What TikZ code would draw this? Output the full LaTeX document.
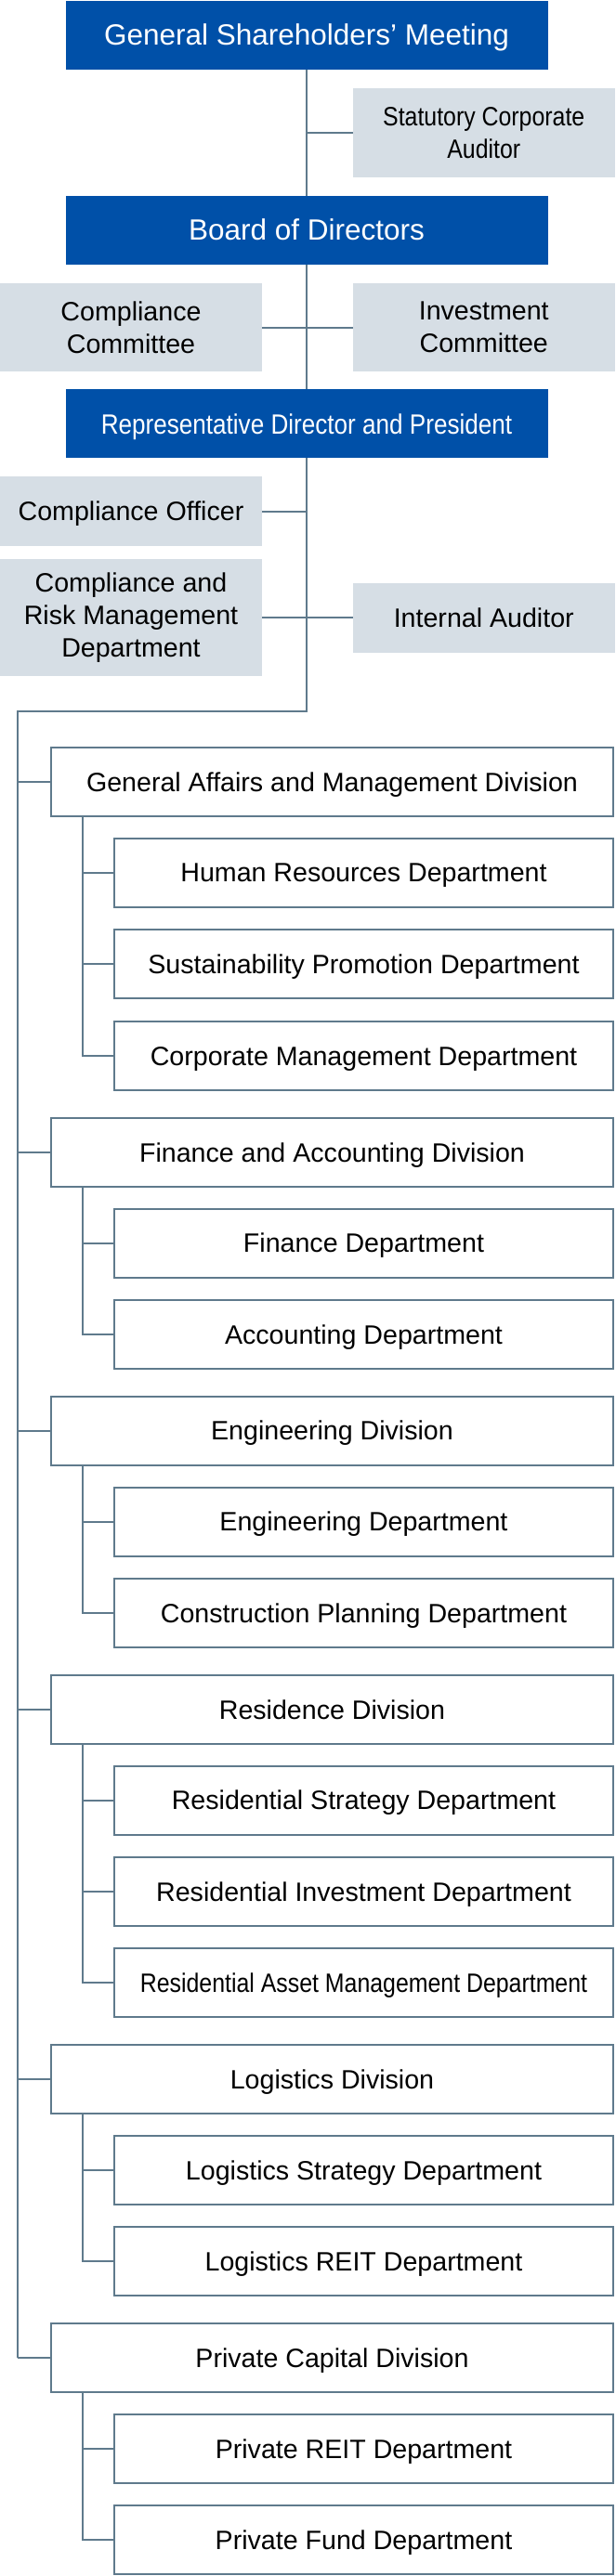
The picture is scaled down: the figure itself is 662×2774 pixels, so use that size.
\documentclass[tikz,border=0pt]{standalone}
\usepackage{fontspec}
\setmainfont{Liberation Sans}
\newfontfamily\narrowfont[FakeStretch=0.87]{Liberation Sans}
\definecolor{boardblue}{HTML}{0050A8}
\definecolor{panelgray}{HTML}{D6DEE5}
\definecolor{linkgray}{HTML}{5F7A8C}

\begin{document}
\begin{tikzpicture}[x=1pt,y=-1pt,
    topbox/.style={fill=boardblue,text=white,minimum width=519,minimum height=74,
                   inner sep=0,outer sep=0,font=\fontsize{31.5}{35}\selectfont,
                   text height=22.5pt,text depth=0pt},
    sidebox/.style={fill=panelgray,minimum width=282,inner sep=0,outer sep=0,
                    align=center,font=\fontsize{28.6}{35}\selectfont},
    onerow/.style={text height=20.5pt,text depth=0pt},
    divbox/.style={draw=linkgray,line width=1.8pt,fill=white,minimum width=605,
                   minimum height=74,inner sep=0,outer sep=0,
                   font=\fontsize{28.6}{35}\selectfont,text height=20.5pt,text depth=0pt},
    deptbox/.style={divbox,minimum width=537},
    link/.style={draw=linkgray,line width=2pt}]
    \useasboundingbox (0,0) rectangle (662,2774);

    % top of the chart
    \node [topbox] (gsm) at (330,37.5) {General Shareholders’ Meeting};
    \node [topbox] (bod) at (330,247.5) {Board of Directors};
    \node [topbox] (rep) at (330,456) {\narrowfont\fontsize{30}{35}\selectfont Representative Director and President};

    \node [sidebox,minimum width=282.5,minimum height=96] (sca) at (520.75,143)
          {\narrowfont Statutory Corporate\\\narrowfont Auditor};
    \node [sidebox,minimum height=95] (cc) at (141,352.5) {Compliance\\Committee};
    \node [sidebox,minimum width=282.5,minimum height=95] (ic) at (520.75,352.5) {Investment\\Committee};
    \node [sidebox,onerow,minimum height=75.6] (co) at (141,550.5) {Compliance Officer};
    \node [sidebox,minimum height=125.7] (crm) at (141,665) {Compliance and\\Risk Management\\Department};
    \node [sidebox,onerow,minimum width=282.5,minimum height=75] (ia) at (520.75,665) {Internal Auditor};

    \coordinate (turn) at (330,765.7);
    \coordinate (corner) at (19,765.7);
    \coordinate (sub) at (88.6,0);

    % divisions
    \node [divbox] (ga) at (357.5,842) {General Affairs and Management Division};
    \node [divbox] (fa) at (357.5,1241) {Finance and Accounting Division};
    \node [divbox] (en) at (357.5,1540.7) {Engineering Division};
    \node [divbox] (re) at (357.5,1841) {Residence Division};
    \node [divbox] (lo) at (357.5,2239) {Logistics Division};
    \node [divbox] (pc) at (357.5,2539.3) {Private Capital Division};

    % departments
    \node [deptbox] (hr) at (391.5,939.7) {Human Resources Department};
    \node [deptbox] (sp) at (391.5,1038) {Sustainability Promotion Department};
    \node [deptbox] (cm) at (391.5,1137) {Corporate Management Department};
    \node [deptbox] (fin) at (391.5,1338.7) {Finance Department};
    \node [deptbox] (acc) at (391.5,1437) {Accounting Department};
    \node [deptbox] (ed) at (391.5,1638.7) {Engineering Department};
    \node [deptbox] (cp) at (391.5,1737) {Construction Planning Department};
    \node [deptbox] (rs) at (391.5,1938.7) {Residential Strategy Department};
    \node [deptbox] (ri) at (391.5,2037) {Residential Investment Department};
    \node [deptbox] (ra) at (391.5,2135.3) {\narrowfont Residential Asset Management Department};
    \node [deptbox] (ls) at (391.5,2337) {Logistics Strategy Department};
    \node [deptbox] (lr) at (391.5,2435.3) {Logistics REIT Department};
    \node [deptbox] (pr) at (391.5,2637) {Private REIT Department};
    \node [deptbox] (pf) at (391.5,2735.3) {Private Fund Department};

    % lines
    \draw [link] (gsm) -- (bod);
    \draw [link] (bod) -- (rep);
    \draw [link] (rep.south) -- (turn) -- (corner) -- (corner |- pc.west);
    \draw [link] (sca.west) -- (sca.west -| gsm.south);
    \draw [link] (cc.east) -- (ic.west);
    \draw [link] (co.east) -- (co.east -| rep.south);
    \draw [link] (crm.east) -- (ia.west);
    \foreach \d in {ga,fa,en,re,lo,pc}
        \draw [link] (corner |- \d.west) -- (\d.west);
    \foreach \d/\last in {ga/cm,fa/acc,en/cp,re/ra,lo/lr,pc/pf}
        \draw [link] (sub |- \d.south) |- (\last.west);
    \foreach \p in {hr,sp,fin,ed,rs,ri,ls,pr}
        \draw [link] (sub |- \p.west) -- (\p.west);
\end{tikzpicture}
\end{document}
